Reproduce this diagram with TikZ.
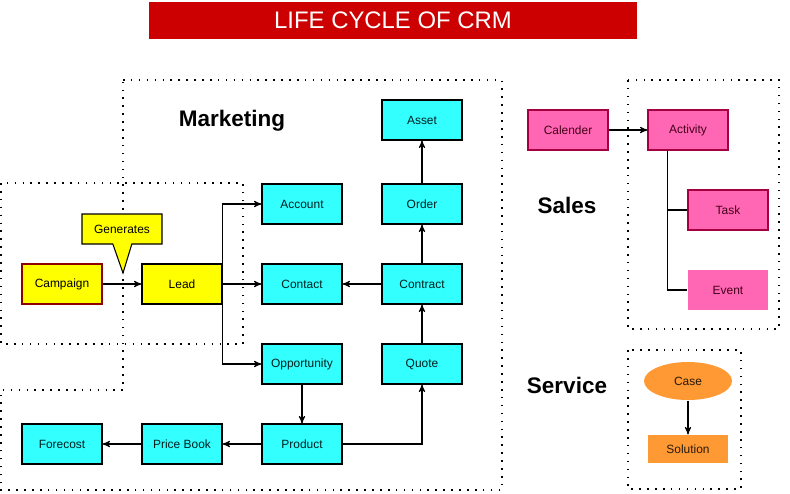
\documentclass[tikz,border=0pt]{standalone}
\usepackage{fontspec}
\setmainfont{Liberation Sans}
\usepackage{tikz}
\usetikzlibrary{arrows}
\usetikzlibrary{positioning,shapes.geometric,shapes.callouts}
\definecolor{crmred}{HTML}{CC0000}
\definecolor{crmcyan}{HTML}{33FFFF}
\definecolor{crmyellow}{HTML}{FFFF00}
\definecolor{crmpink}{HTML}{FF66B3}
\definecolor{crmpinkdark}{HTML}{A50040}
\definecolor{crmorange}{HTML}{FF9933}
\tikzset{
    font={\fontsize{6.8pt}{8}\selectfont},
    state/.style={
           rectangle,
           draw=black, semithick,
           minimum width=1.6cm,
           minimum height=0.8cm,
           inner sep=2pt,
           text centered,
           },
    marketing/.style={state, fill=crmcyan, text=black!75!teal},
    leads/.style={state, fill=crmyellow},
    sales/.style={state, draw=crmpinkdark, fill=crmpink, text=crmpinkdark!40!black},
    service/.style={state, draw=none, fill=crmorange, text=black!80!brown},
    region/.style={draw=black, line width=1.2pt, dash pattern=on 0.9pt off 3.6pt},
    heading/.style={font={\fontsize{12.8pt}{14}\selectfont\bfseries}},
}

\begin{document}
\begin{tikzpicture}[->,>=stealth',semithick]
\useasboundingbox (0,0) rectangle (15.8,-9.86);

% title bar
\node[fill=crmred, text=white, minimum width=9.76cm, minimum height=0.74cm,
      font={\fontsize{13.6pt}{15}\selectfont}] (TITLE) at (7.86,-0.41) {LIFE CYCLE OF CRM};

% dotted regions
\draw[region,-] (2.46,-1.6) -- (10.04,-1.6) -- (10.04,-9.8) -- (0.02,-9.8)
      -- (0.02,-7.8) -- (2.46,-7.8) -- cycle;
\draw[region,-] (0.02,-3.66) rectangle (4.86,-6.88);
\draw[region,-] (12.56,-1.6) rectangle (15.58,-6.58);
\draw[region,-] (12.56,-7.0) rectangle (14.82,-9.78);

% headings
\node[heading] (MARKETING) at (4.64,-2.42) {Marketing};
\node[heading] (SALES) at (11.34,-4.1) {Sales};
\node[heading] (SERVICE) at (11.34,-7.7) {Service};

% Marketing: leads
\node[leads, draw=crmred!70!black] (CAMPAIGN) at (1.24,-5.68) {Campaign};
\node[leads, right of=CAMPAIGN, node distance=2.4cm] (LEAD) {Lead};
\node[rectangle callout, draw=black, semithick, fill=crmyellow,
      minimum width=1.6cm, minimum height=0.6cm,
      callout absolute pointer={(2.46,-5.46)}, callout pointer width=0.38cm]
      (GENERATES) at (2.44,-4.58) {Generates};

% Marketing: objects
\node[marketing, right of=LEAD, node distance=2.4cm] (CONTACT) {Contact};
\node[marketing, above of=CONTACT, node distance=1.6cm] (ACCOUNT) {Account};
\node[marketing, below of=CONTACT, node distance=1.6cm] (OPPORTUNITY) {Opportunity};
\node[marketing, below of=OPPORTUNITY, node distance=1.6cm] (PRODUCT) {Product};
\node[marketing, left of=PRODUCT, node distance=2.4cm] (PRICEBOOK) {Price Book};
\node[marketing, left of=PRICEBOOK, node distance=2.4cm] (FORECOST) {Forecost};
\node[marketing, right of=CONTACT, node distance=2.4cm] (CONTRACT) {Contract};
\node[marketing, below of=CONTRACT, node distance=1.6cm] (QUOTE) {Quote};
\node[marketing, above of=CONTRACT, node distance=1.6cm] (ORDER) {Order};
\node[marketing, above of=ORDER, node distance=1.68cm] (ASSET) {Asset};

% Sales
\node[sales] (CALENDER) at (11.36,-2.6) {Calender};
\node[sales, right of=CALENDER, node distance=2.4cm] (ACTIVITY) {Activity};
\node[sales, below of=ACTIVITY, node distance=1.6cm, xshift=0.8cm] (TASK) {Task};
\node[sales, draw=none, below of=TASK, node distance=1.6cm] (EVENT) {Event};

% Service
\node[ellipse, fill=crmorange, text=black!80!brown, minimum width=1.76cm,
      minimum height=0.76cm] (CASE) at (13.76,-7.62) {Case};
\node[service, below of=CASE, node distance=1.36cm, minimum height=0.56cm] (SOLUTION) {Solution};

\path (CAMPAIGN)    edge (LEAD)
      (LEAD)        edge (CONTACT)
      (CONTRACT)    edge (CONTACT)
      (QUOTE)       edge (CONTRACT)
      (CONTRACT)    edge (ORDER)
      (ORDER)       edge (ASSET)
      (OPPORTUNITY) edge (PRODUCT)
      (PRODUCT)     edge (PRICEBOOK)
      (PRICEBOOK)   edge (FORECOST)
      (CALENDER)    edge (ACTIVITY)
      (CASE)        edge (SOLUTION)
;

\draw (LEAD.north east) |- (ACCOUNT);
\draw (LEAD.south east) |- (OPPORTUNITY);
\draw (PRODUCT) -| (QUOTE);
\draw[-] ([xshift=0.4cm]ACTIVITY.south west) |- (TASK);
\draw[-] ([xshift=0.4cm]ACTIVITY.south west) |- (EVENT);

\end{tikzpicture}
\end{document}
